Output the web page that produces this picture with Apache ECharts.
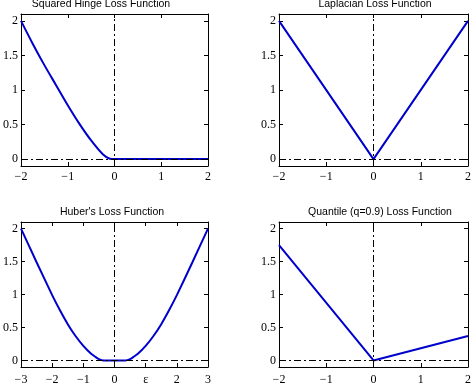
<!DOCTYPE html><html><head><meta charset="utf-8">
<script src="https://cdn.jsdelivr.net/npm/echarts@6/dist/echarts.min.js"></script>
<style>html,body{margin:0;padding:0;background:#fff}#c{width:474px;height:386px}</style>
</head><body><div id="c"></div><script>
// ---- data ----
const titles = ["Squared Hinge Loss Function", "Laplacian Loss Function", "Huber's Loss Function", "Quantile (q=0.9) Loss Function"];
const yTicks = [0, 0.5, 1, 1.5, 2];
const hingeX = [-2, -1.75, -1.5, -1.25, -1, -0.75, -0.5, -0.25, -0.1, 0, 1, 2];
const hingeY = [2.0, 1.67, 1.36, 1.07, 0.78, 0.51, 0.27, 0.07, 0.005, 0, 0, 0];
const laplaceX = [-2, 0, 2];
const laplaceY = [2, 0, 2];
const huberX = [-3, -2.5, -2, -1.75, -1.5, -1.25, -1, -0.75, -0.6, -0.5, -0.35, 0, 0.35, 0.5, 0.6, 0.75, 1, 1.25, 1.5, 1.75, 2, 2.5, 3];
const huberY = [2, 1.49, 0.99, 0.76, 0.55, 0.37, 0.22, 0.1, 0.05, 0.02, 0, 0, 0, 0.02, 0.05, 0.1, 0.22, 0.37, 0.55, 0.76, 0.99, 1.49, 2];
const quantX = [-2, 0, 2];
const quantY = [1.75, 0, 0.37];
const huberTickLabels = {"-3": "−3", "-2": "−2", "-1": "−1", "0": "0", "1": "ε", "2": "2", "3": "3"};

const pairs = (xs, ys) => xs.map((x, i) => [x, ys[i]]);
const serif = "Liberation Serif";
const sans = "Liberation Sans";
const grids = [
  {left: 15, top: 14, width: 193, height: 152},
  {left: 279, top: 14, width: 191, height: 152},
  {left: 15, top: 222, width: 193, height: 151},
  {left: 279, top: 222, width: 191, height: 151}
];
const xRanges = [[-2, 2], [-2, 2], [-3, 3], [-2, 2]];
const xLabelMargin = [5, 5, 7, 7];
const titlePos = [[101, -1], [375, -1], [112, 207], [380, 207]];
const datasets = [pairs(hingeX, hingeY), pairs(laplaceX, laplaceY), pairs(huberX, huberY), pairs(quantX, quantY)];
const smoothing = [0.3, false, 0.2, false];

const xAxis = [], yAxis = [], series = [], title = [];
grids.forEach((g, i) => {
  const fmt = i === 2 ? (v => huberTickLabels[String(v)] ?? String(v)) : (v => String(v).replace('-', '−'));
  xAxis.push({type: 'value', gridIndex: i, min: xRanges[i][0], max: xRanges[i][1], interval: 1, position: 'bottom',
    splitLine: {show: false}, axisLine: {show: true, onZero: false, lineStyle: {color: '#000', width: 1}},
    axisTick: {inside: true, length: 4, lineStyle: {color: '#000'}},
    axisLabel: {formatter: fmt, fontFamily: serif, fontSize: 12, color: '#000', margin: xLabelMargin[i]}});
  xAxis.push({type: 'value', gridIndex: i, min: xRanges[i][0], max: xRanges[i][1], interval: 1, position: 'top',
    splitLine: {show: false}, axisLine: {show: true, onZero: false, lineStyle: {color: '#000', width: 1}},
    axisTick: {inside: true, length: 4, lineStyle: {color: '#000'}}, axisLabel: {show: false}});
  yAxis.push({type: 'value', gridIndex: i, min: -0.1, max: 2.1, position: 'left',
    splitLine: {show: false}, axisLine: {show: true, onZero: false, lineStyle: {color: '#000', width: 1}},
    axisTick: {inside: true, length: 4, customValues: yTicks, lineStyle: {color: '#000'}},
    axisLabel: {customValues: yTicks, fontFamily: serif, fontSize: 12, color: '#000', margin: 3}});
  yAxis.push({type: 'value', gridIndex: i, min: -0.1, max: 2.1, position: 'right',
    splitLine: {show: false}, axisLine: {show: true, onZero: false, lineStyle: {color: '#000', width: 1}},
    axisTick: {inside: true, length: 4, customValues: yTicks, lineStyle: {color: '#000'}}, axisLabel: {show: false}});
  series.push({type: 'line', xAxisIndex: 2 * i, yAxisIndex: 2 * i, data: [], z: 1, silent: true,
    markLine: {silent: true, symbol: 'none', label: {show: false},
      lineStyle: {color: '#000', width: 1, type: [7, 3, 2, 3]},
      data: [{xAxis: 0}, {yAxis: 0}]}});
  series.push({type: 'line', xAxisIndex: 2 * i, yAxisIndex: 2 * i, data: datasets[i], z: 3,
    showSymbol: false, smooth: smoothing[i],
    lineStyle: {color: '#0000cc', width: 2}, animation: false});
  title.push({text: titles[i], left: titlePos[i][0], top: titlePos[i][1], textAlign: 'center', padding: 0,
    textStyle: {fontFamily: sans, fontSize: 10.5, fontWeight: 'normal', color: '#000'}});
});

const chart = echarts.init(document.getElementById('c'));
chart.setOption({backgroundColor: '#fff', animation: false, title, grid: grids, xAxis, yAxis, series});
</script></body></html>
